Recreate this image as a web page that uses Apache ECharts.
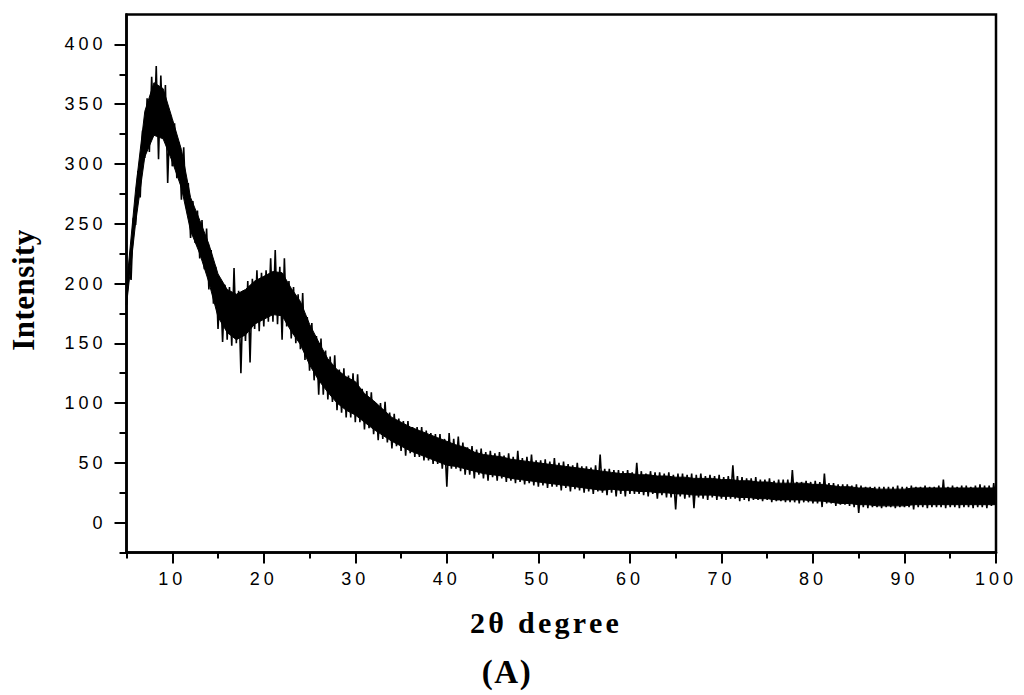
<!DOCTYPE html>
<html>
<head>
<meta charset="utf-8">
<script src="https://cdn.jsdelivr.net/npm/echarts@6/dist/echarts.min.js"></script>
<style>
html,body{margin:0;padding:0;background:#fff;}
#chart{width:1024px;height:695px;}
#chart svg text{letter-spacing:4px;}
#chart svg text[style*="31px"], #chart svg text[font-size*="31"]{letter-spacing:0.5px;}
#chart svg text[style*="30px"], #chart svg text[font-size*="30"]{letter-spacing:3.3px;}
#chart svg text[style*="33px"], #chart svg text[font-size*="33"]{letter-spacing:1.5px;}
</style>
</head>
<body>
<div id="chart"></div>
<script>
// 2θ sampling of the trace (degrees)
const xStart = 5;
const xStep = 0.25;

// Intensity, in 0.25° steps
const int05to10 = [182,215,203,255,249,294,272,328,305,355,310,373,324,382,304,374,322,366,284,342,298];
const int10to20 = [334,288,318,270,314,264,284,238,269,234,261,221,253,212,246,195,228,183,214,162,201,151,199,153,197,148,213,150,194,125,194,152,202,134,204,162,211,160,209,164];
const int20to30 = [211,168,221,168,228,166,214,153,221,164,202,154,197,150,191,145,192,136,172,127,167,119,156,107,154,107,144,103,139,101,140,94,128,92,129,88,123,88,125,84];
const int30to40 = [124,84,112,78,110,79,109,74,100,69,100,70,101,67,92,62,91,64,87,60,85,56,85,58,80,55,80,55,80,52,77,52,75,49,74,49,74,45,70,30];
const int40to50 = [75,45,70,45,72,43,67,40,63,40,64,37,61,40,62,37,59,35,60,38,58,35,59,37,56,34,58,35,55,33,60,34,54,32,55,33,57,31,52,30];
const int50to60 = [52,31,53,29,51,30,54,30,50,27,51,29,49,26,48,28,50,27,47,25,47,26,46,24,48,26,57,25,45,23,45,25,44,22,44,24,43,22,44,24];
const int60to70 = [42,24,50,24,43,23,41,22,43,24,42,20,42,23,41,21,42,21,40,11,41,22,41,20,40,21,41,12,40,21,41,20,39,19,40,21,39,19,40,20];
const int70to80 = [38,19,39,20,48,20,39,18,38,19,37,18,37,19,38,19,36,18,36,19,37,17,35,18,36,18,36,17,36,17,44,17,34,16,34,17,35,17,34,16];
const int80to90 = [35,16,34,13,41,16,33,16,33,14,32,15,32,15,32,14,31,13,32,8,31,13,30,12,30,13,30,13,30,12,30,13,30,13,30,12,31,13,30,13];
const int90to100 = [30,13,31,11,30,13,30,13,31,12,30,13,30,13,31,13,36,12,30,13,31,13,30,12,31,13,31,13,30,12,31,13,32,13,31,12,31,14,33,16];

// Dense noise core (solid black part of the trace), read at 1° steps from 5° to 100°
const coreStep = 1;
const coreLow  = [182,251,306,324,321,302,280,244,225,201,172,159,153,157,166,170,174,173,160,149,132,119,109,100,94,90,84,78,73,68,64,60,57,54,51,48,47,45,43,41,40,39,37,36,35,34,33,32,31,30,29,28,27,28,27,27,26,26,25,25,24,24,23,23,23,22,22,21,21,20,20,19,19,19,19,18,18,17,16,16,15,15,14,14,14,14,15,15,15,15,15,15,15,15,15,15];
const coreHigh = [198,279,344,368,363,338,312,272,253,233,208,195,191,195,202,206,210,209,196,185,166,151,137,128,122,118,108,102,95,88,84,80,77,74,71,68,65,63,59,57,56,55,53,52,51,50,49,48,47,46,45,44,43,42,41,41,40,40,39,39,38,38,37,37,37,36,36,35,35,34,34,33,33,33,33,32,32,31,30,30,29,29,28,28,28,28,29,29,29,29,29,29,29,29,29,29];

// Tick values
const xMajorTicks = [10,20,30,40,50,60,70,80,90,100];
const xMinorTicks = [5,15,25,35,45,55,65,75,85,95];
const yMajorTicks = [0,50,100,150,200,250,300,350,400];
const yMinorTicks = [-25,25,75,125,175,225,275,325,375];

const intensity = [].concat(int05to10,int10to20,int20to30,int30to40,int40to50,int50to60,int60to70,int70to80,int80to90,int90to100);
const points = intensity.map((v,i)=>[xStart + i*xStep, v]);

const tickStyle = {color:'#000', width:2};
const labelFont = {color:'#000', fontSize:18, fontFamily:'"Liberation Sans", Arial, sans-serif'};
const xBase = {type:'value', min:5, max:100, position:'bottom', splitLine:{show:false}};
const yBase = {type:'value', min:-25, max:425, position:'left', splitLine:{show:false}};

function renderCore(params, api) {
  const upper = coreHigh.map((v,i)=>api.coord([xStart + i*coreStep, v]));
  const lower = coreLow.map((v,i)=>api.coord([xStart + i*coreStep, v])).reverse();
  return {type:'polygon', shape:{points: upper.concat(lower)}, style:{fill:'#000', stroke:'#000', lineWidth:1}};
}

const chart = echarts.init(document.getElementById('chart'), null, {renderer:'svg'});
chart.setOption({
  animation:false,
  backgroundColor:'#fff',
  grid:{left:126.5, right:28, top:14.5, bottom:142.5, containLabel:false, outerBoundsMode:'none',
        show:true, borderColor:'#000', borderWidth:2.5},
  xAxis:[
    Object.assign({}, xBase, {
      axisLine:{onZero:false, lineStyle:{color:'#000', width:2.5}},
      axisTick:{customValues:xMajorTicks, length:11, lineStyle:tickStyle},
      axisLabel:Object.assign({customValues:xMajorTicks, margin:17}, labelFont)
    }),
    Object.assign({}, xBase, {
      axisLine:{show:false, onZero:false},
      axisTick:{customValues:xMinorTicks, length:6, lineStyle:tickStyle},
      axisLabel:{show:false}
    })
  ],
  yAxis:[
    Object.assign({}, yBase, {
      axisLine:{onZero:false, lineStyle:{color:'#000', width:2.5}},
      axisTick:{customValues:yMajorTicks, length:12, lineStyle:tickStyle},
      axisLabel:Object.assign({customValues:yMajorTicks, margin:20}, labelFont)
    }),
    Object.assign({}, yBase, {
      axisLine:{show:false, onZero:false},
      axisTick:{customValues:yMinorTicks, length:7, lineStyle:tickStyle},
      axisLabel:{show:false}
    })
  ],
  series:[
    {
      type:'custom', coordinateSystem:'cartesian2d', xAxisIndex:0, yAxisIndex:0,
      data:[[xStart, coreLow[0]]], renderItem:renderCore, silent:true, clip:true
    },
    {
      type:'line', xAxisIndex:0, yAxisIndex:0, data:points,
      showSymbol:false, symbol:'none', silent:true, clip:true,
      lineStyle:{color:'#000', width:1.6, join:'miter', miterLimit:4}
    }
  ],
  graphic:[
    {type:'text', x:546, y:622, style:{text:'2θ degree', font:'bold 30px "Liberation Serif", "Times New Roman", serif', fill:'#000', textAlign:'center', textVerticalAlign:'middle'}},
    {type:'text', x:507, y:672, style:{text:'(A)', font:'bold 33px "Liberation Serif", "Times New Roman", serif', fill:'#000', textAlign:'center', textVerticalAlign:'middle'}},
    {type:'text', x:23, y:290, rotation:Math.PI/2, style:{text:'Intensity', font:'bold 31px "Liberation Serif", "Times New Roman", serif', fill:'#000', textAlign:'center', textVerticalAlign:'middle'}}
  ]
});
</script>
</body>
</html>
